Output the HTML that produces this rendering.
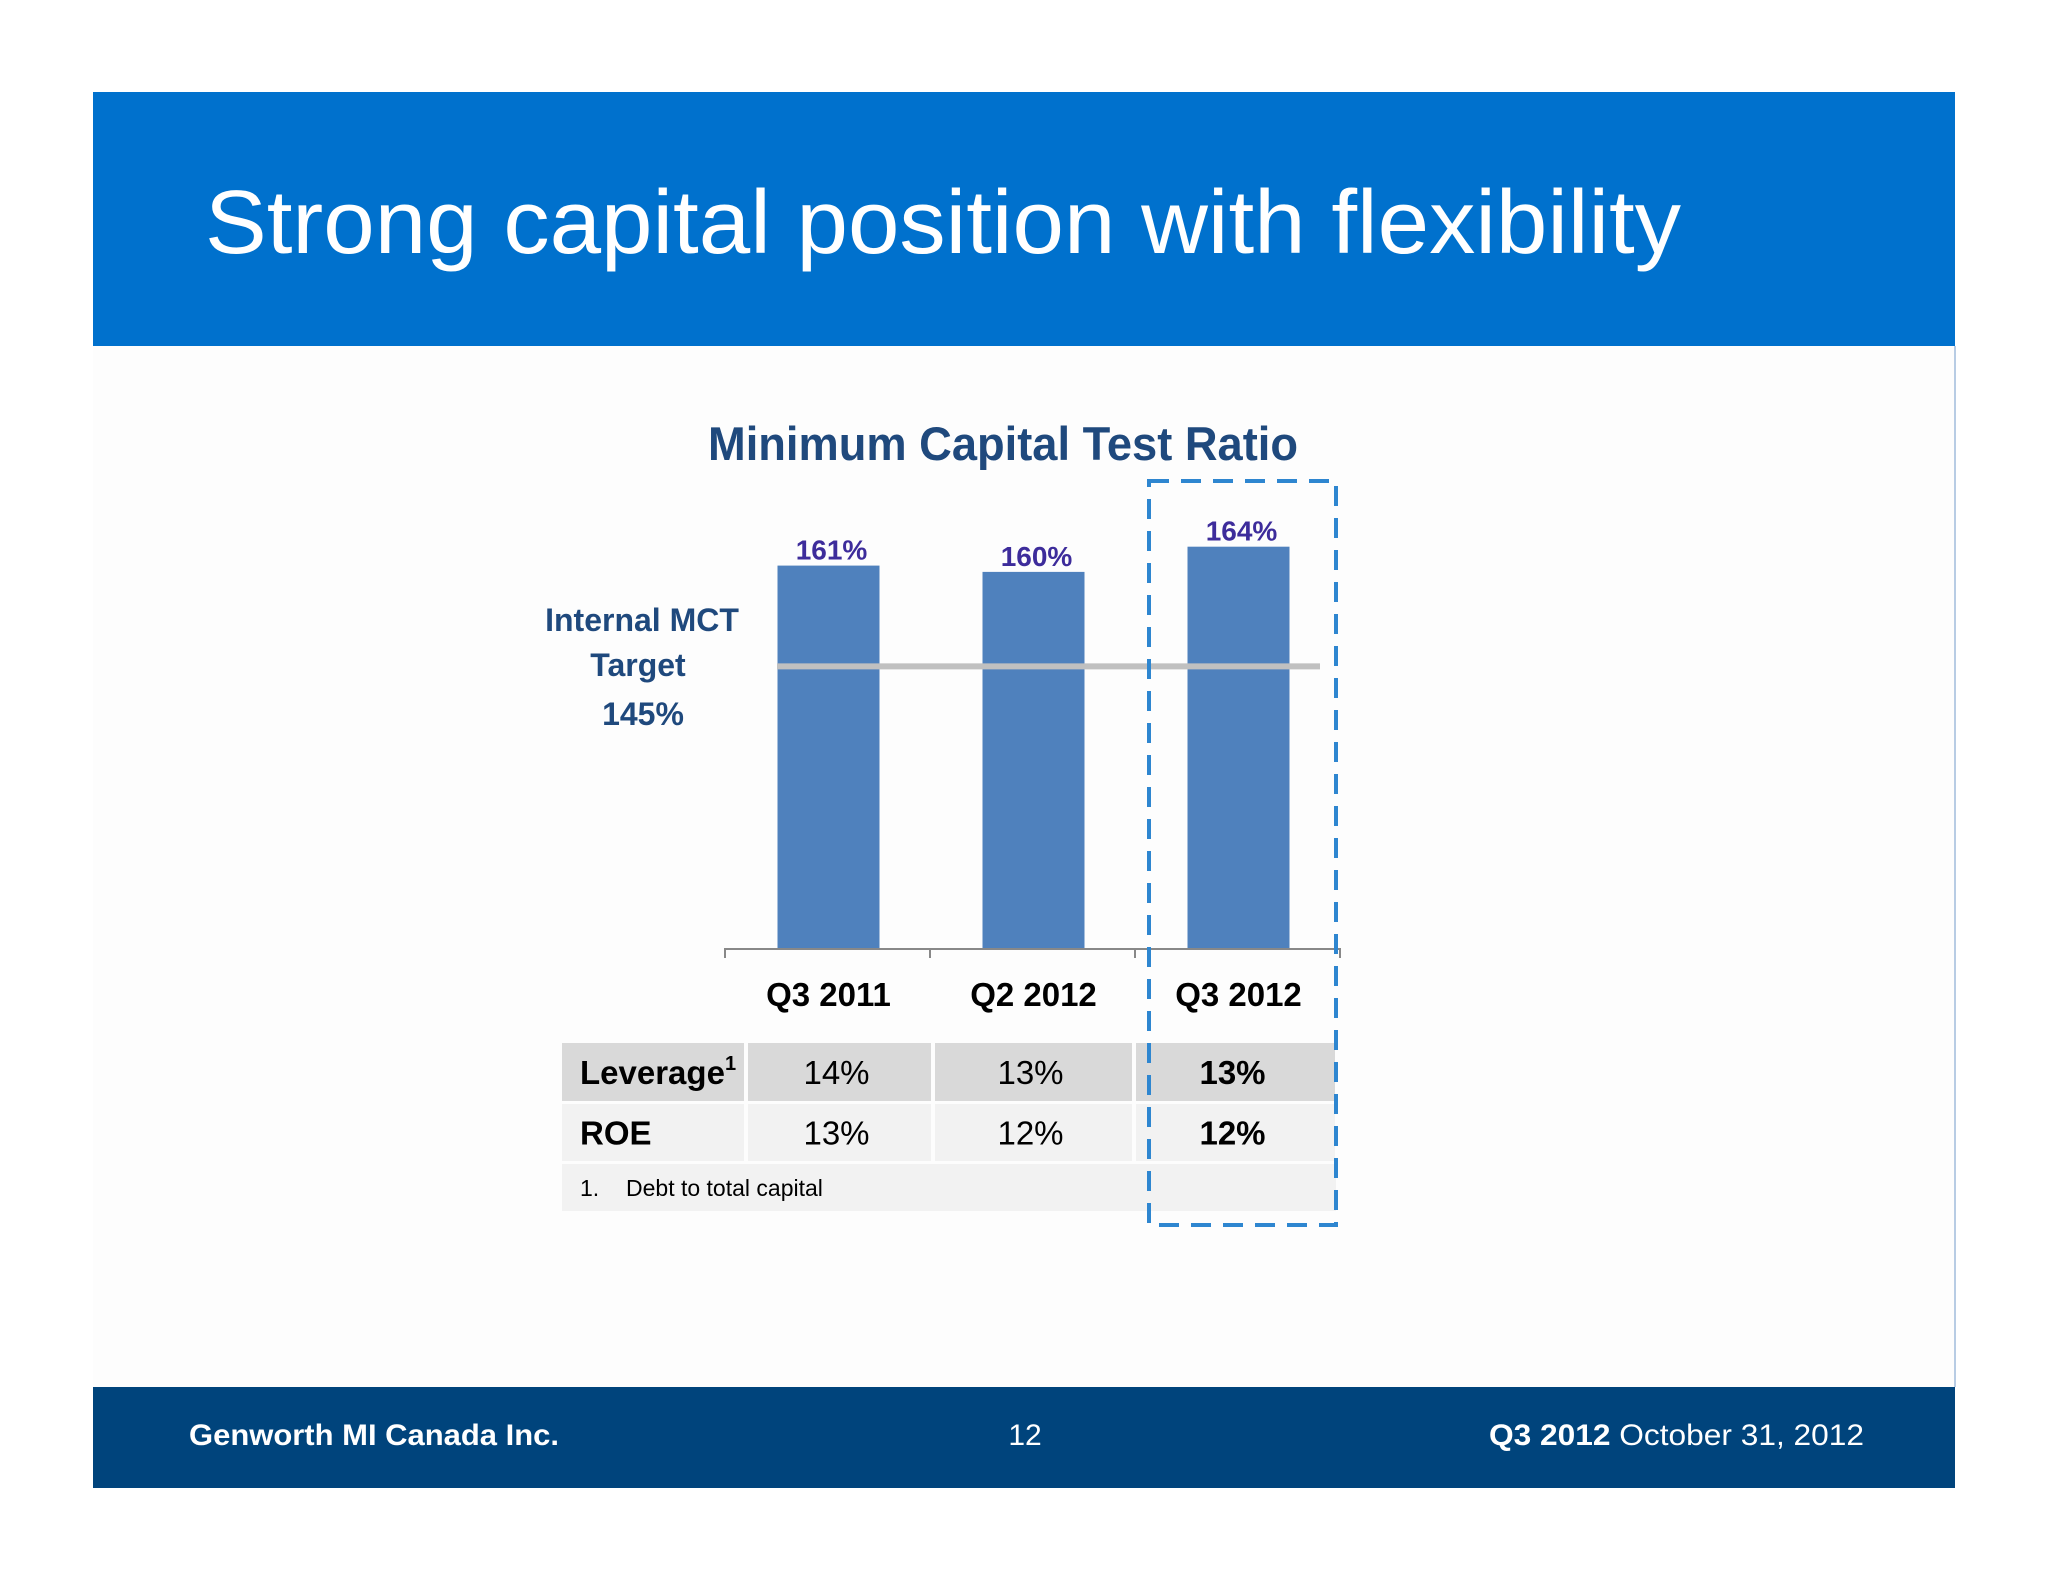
<!DOCTYPE html>
<html><head><meta charset="utf-8"><style>
html,body{margin:0;padding:0;background:#fff;}
svg{display:block;}
</style></head><body>
<svg id="slide" width="2048" height="1582" viewBox="0 0 2048 1582" xmlns="http://www.w3.org/2000/svg" font-family="Liberation Sans, sans-serif">
<rect x="93" y="346" width="1862" height="1041" fill="#fdfdfd"/>
<line x1="1955" y1="346" x2="1955" y2="1387" stroke="#b8cce4" stroke-width="2"/>
<rect x="93" y="92" width="1862" height="254" fill="#0071cd"/>
<text x="205" y="253" font-size="90" fill="#fff" textLength="1476" lengthAdjust="spacingAndGlyphs">Strong capital position with flexibility</text>
<text x="1003" y="460" font-size="47" font-weight="bold" fill="#1f497d" text-anchor="middle" textLength="590" lengthAdjust="spacingAndGlyphs">Minimum Capital Test Ratio</text>
<g id="chart"></g>
<g font-size="32" font-weight="bold" fill="#1f497d" text-anchor="middle">
<text x="642" y="631">Internal MCT</text>
<text x="638" y="676">Target</text>
<text x="643" y="725">145%</text>
</g>
<g id="table"></g>
<rect x="1149" y="481" width="187" height="744" fill="none" stroke="#2e86d0" stroke-width="4" stroke-dasharray="20,12"/>
<rect x="93" y="1387" width="1862" height="101" fill="#00447c"/>
<text x="189" y="1445" font-size="30" font-weight="bold" fill="#fff" textLength="370" lengthAdjust="spacingAndGlyphs">Genworth MI Canada Inc.</text>
<text x="1025" y="1445" font-size="30" fill="#fff" text-anchor="middle">12</text>
<text x="1489" y="1445" font-size="30" fill="#fff" textLength="375" lengthAdjust="spacingAndGlyphs"><tspan font-weight="bold">Q3 2012</tspan>  October 31, 2012</text>
</svg>
<script>
const categories = ["Q3 2011", "Q2 2012", "Q3 2012"];
const mctValues = [161, 160, 164];
const valueLabels = ["161%", "160%", "164%"];
const targetValue = 145;
const rowLabels = ["Leverage", "ROE"];
const leverageValues = ["14%", "13%", "13%"];
const roeValues = ["13%", "12%", "12%"];

const NS = "http://www.w3.org/2000/svg";
const chart = document.getElementById('chart');
const x0 = 725, slotW = 205, barW = 102, baseY = 948, vMin = 100.3, pxPer = 6.3;
const yScale = v => baseY - (v - vMin) * pxPer;
const xCenter = i => x0 + slotW * i + slotW / 2 + 1;
function mk(tag, attrs, parent) {
  const e = document.createElementNS(NS, tag);
  for (const k in attrs) e.setAttribute(k, attrs[k]);
  parent.appendChild(e);
  return e;
}
mctValues.forEach((v, i) => {
  const r = mk('rect', {x: xCenter(i) - barW / 2, y: yScale(v), width: barW, height: baseY - yScale(v), fill: '#4f81bd'}, chart);
  
  
  const t = mk('text', {x: xCenter(i) + 3, y: yScale(v) - 6, 'font-size': 28, 'font-weight': 'bold', fill: '#3d2c9b', 'text-anchor': 'middle'}, chart);
  t.textContent = valueLabels[i];
  
  
  const c = mk('text', {x: xCenter(i), y: 1006, 'font-size': 33, 'font-weight': 'bold', fill: '#000', 'text-anchor': 'middle'}, chart);
  c.textContent = categories[i];
  
  
});
const tl = mk('line', {x1: 777, x2: 1320, y1: yScale(targetValue), y2: yScale(targetValue), stroke: '#c0c0c0', 'stroke-width': 6}, chart);


const ax = mk('line', {x1: x0, x2: x0 + slotW * categories.length, y1: baseY + 1, y2: baseY + 1, stroke: '#888', 'stroke-width': 2}, chart);


for (let i = 0; i <= categories.length; i++) {
  const tk = mk('line', {x1: x0 + slotW * i, x2: x0 + slotW * i, y1: baseY, y2: baseY + 10, stroke: '#888', 'stroke-width': 2}, chart);
  
  
}

const table = document.getElementById('table');
const cols = [[562, 182], [748, 183], [935, 197], [1136, 199]];
const rows = [[1043, 58, '#d9d9d9', leverageValues], [1104, 57, '#f2f2f2', roeValues]];
rows.forEach((r, ri) => {
  cols.forEach((c, ci) => {
    const cell = mk('rect', {x: c[0], y: r[0], width: c[1], height: r[1], fill: r[2]}, table);
    
    
    const cy = r[0] + r[1] / 2 + 12;
    let t;
    if (ci === 0) {
      t = mk('text', {x: 580, y: cy, 'font-size': 33, 'font-weight': 'bold', fill: '#000'}, table);
      t.textContent = rowLabels[ri];
      if (ri === 0) { const s = mk('tspan', {'font-size': 20, dy: -14}, t); s.textContent = '1'; }
    } else {
      t = mk('text', {x: c[0] + c[1] / 2 - 3, y: cy, 'font-size': 33, 'font-weight': ci === 3 ? 'bold' : 'normal', fill: '#000', 'text-anchor': 'middle'}, table);
      t.textContent = r[3][ci - 1];
    }
    
    
  });
});
const fn = mk('rect', {x: 562, y: 1164, width: 774, height: 47, fill: '#f2f2f2'}, table);


const f1 = mk('text', {x: 580, y: 1196, 'font-size': 23, fill: '#000'}, table);
f1.textContent = '1.';


const f2 = mk('text', {x: 626, y: 1196, 'font-size': 23, fill: '#000'}, table);
f2.textContent = 'Debt to total capital';


</script>
</body></html>
